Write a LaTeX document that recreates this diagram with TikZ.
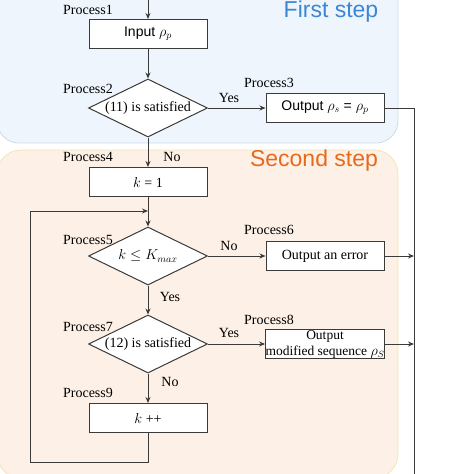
\documentclass[tikz,border=0pt]{standalone}
\usepackage{fontspec}
\setmainfont{Liberation Serif}
\setsansfont{Liberation Sans}
\usetikzlibrary{shapes.geometric,arrows.meta}
\definecolor{linec}{HTML}{3A3A3A}
\definecolor{bluefill}{HTML}{EEF5FC}
\definecolor{blueedge}{HTML}{CADCEC}
\definecolor{orfill}{HTML}{FDF0E6}
\definecolor{oredge}{HTML}{F2E6B4}
\definecolor{bluetxt}{HTML}{3C86D8}
\definecolor{ortxt}{HTML}{E66A1C}
\begin{document}
\begin{tikzpicture}[x=1pt,y=-1pt,
  every node/.style={font=\fontsize{14}{16}\selectfont},
  box/.style={draw=linec,line width=1pt,fill=white,minimum width=118pt,minimum height=29pt,inner sep=0pt},
  dia/.style={draw=linec,line width=1pt,fill=white,diamond,aspect=2.05,minimum width=119pt,minimum height=58pt,inner sep=0pt},
  plabel/.style={inner sep=0pt},
  steptitle/.style={inner sep=0pt,font=\sffamily\fontsize{23}{26}\selectfont},
  conn/.style={draw=linec,line width=0.9pt},
  arr/.style={conn,-{Stealth[length=6pt,width=5pt]}},
]
\useasboundingbox (0,0) rectangle (474,474);
% regions
\draw[fill=bluefill,draw=blueedge,line width=0.8pt,rounded corners=22pt] (-3,-25) rectangle (398,143);
\draw[fill=orfill,draw=oredge,line width=0.8pt,rounded corners=24pt] (-3,150) rectangle (398,478);
\node[steptitle,text=bluetxt] (t1) at (331,12) {First step};
\node[steptitle,text=ortxt] (t2) at (314,161) {Second step};
% nodes
\node[box,font=\sffamily\fontsize{14}{16}\selectfont] (p1) at (148,34) {Input $\rho_p$};
\node[dia] (p2) at (148,108) {(11) is satisfied};
\node[box,font=\sffamily\fontsize{14}{16}\selectfont] (p3) at (325,108) {Output $\rho_s$ = $\rho_p$};
\node[box] (p4) at (148,182) {$k$ = 1};
\node[dia] (p5) at (148,256) {$k \leq K_{max}$};
\node[box] (p6) at (325,256) {Output an error};
\node[dia] (p7) at (148,344) {(12) is satisfied};
\node[box,align=center,font=\fontsize{13.5}{16}\selectfont] (p8) at (325,344) {Output\\modified sequence $\rho_S$};
\node[box] (p9) at (148,418) {$k$ ++};
% process labels
\node[plabel] (l1) at (88,10) {Process1};
\node[plabel] (l2) at (88,89) {Process2};
\node[plabel] (l3) at (269,83) {Process3};
\node[plabel] (l4) at (88,157) {Process4};
\node[plabel] (l5) at (88,240) {Process5};
\node[plabel] (l6) at (269,230) {Process6};
\node[plabel] (l7) at (88,327) {Process7};
\node[plabel] (l8) at (269,320) {Process8};
\node[plabel] (l9) at (88,393) {Process9};
% branch labels
\node[plabel] (y2) at (229,98) {Yes};
\node[plabel] (n2) at (172,157) {No};
\node[plabel] (n5) at (229,246) {No};
\node[plabel] (y5) at (170,297) {Yes};
\node[plabel] (y7) at (229,333) {Yes};
\node[plabel] (n7) at (170,382) {No};
% coordinates
\coordinate (top) at (148,-2);
\coordinate (rt) at (414,108);
\coordinate (rb) at (414,476);
\coordinate (j) at (148,211);
\coordinate (c1) at (30,211);
\coordinate (c2) at (30,462);
\coordinate (c3) at (148,462);
% connectors
\draw[arr] (top) -- (p1);
\draw[arr] (p1) -- (p2);
\draw[arr] (p2) -- (p3);
\draw[conn] (p3.east) -- (rt) -- (rb);
\draw[arr] (p2) -- (p4);
\draw[arr] (p4) -- (p5);
\draw[conn] (p9.south) -- (c3) -- (c2) -- (c1);
\draw[arr] (c1) -- (j);
\draw[arr] (p5) -- (p6);
\draw[arr] (p6.east) -- (p6.east -| rt);
\draw[arr] (p5) -- (p7);
\draw[arr] (p7) -- (p8);
\draw[arr] (p8.east) -- (p8.east -| rt);
\draw[arr] (p7) -- (p9);
\end{tikzpicture}
\end{document}
